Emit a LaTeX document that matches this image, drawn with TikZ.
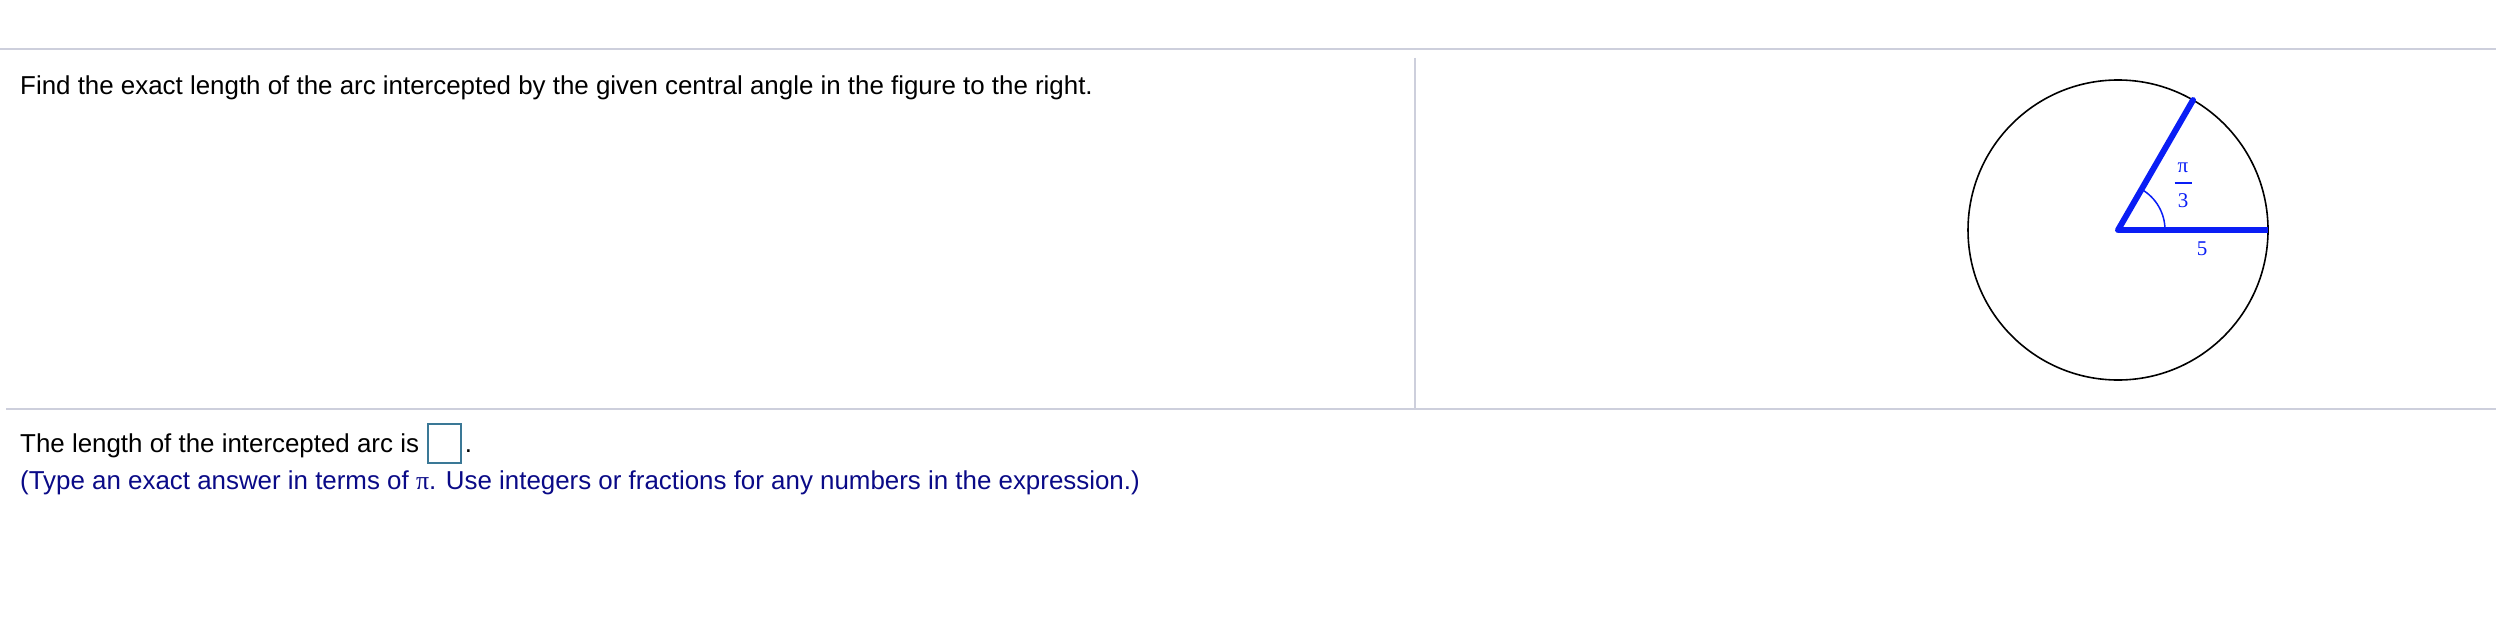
\documentclass[tikz,border=0pt]{standalone}
\usepackage{fontspec}
\setmainfont{Liberation Sans}
\newfontfamily\timesfont{Liberation Serif}
\usepackage{xcolor}
\definecolor{rulegray}{RGB}{205,207,220}
\definecolor{figblue}{RGB}{10,30,245}
\definecolor{hintnavy}{RGB}{10,10,135}
\definecolor{boxteal}{RGB}{58,120,150}
\tikzset{
    prompt/.style={anchor=base west, inner sep=0pt, font=\fontsize{25.9}{30}\selectfont},
    lbl/.style={text=figblue, inner sep=0pt, font=\timesfont\fontsize{21}{24}\selectfont},
}

\begin{document}
\begin{tikzpicture}[x=1pt,y=-1pt]
        \useasboundingbox (0,0) rectangle (2496,642);
        \draw[rulegray, line width=2pt] (0,49) -- (2496,49);
        \draw[rulegray, line width=2pt] (6,409) -- (2496,409);
        \draw[rulegray, line width=2pt] (1415,58) -- (1415,409);
        \node[prompt] (question) at (20,94) {Find the exact length of the arc intercepted by the given central angle in the figure to the right.};
        \node[prompt] (answer) at (20,452) {The length of the intercepted arc is};
        \node[draw=boxteal, line width=1.5pt, minimum width=33pt, minimum height=39pt, inner sep=0pt] (ansbox) at (444.5,443.5) {};
        \node[prompt, anchor=base west] (dot) at ([xshift=3pt]ansbox.east |- answer.base) {.};
        \node[prompt, text=hintnavy] (hint) at (20,489) {(Type an exact answer in terms of {\timesfont π}. Use integers or fractions for any numbers in the expression.)};
        \coordinate (ctr) at (2118,230);
        \draw[line width=1.6pt] (ctr) circle (150);
        \draw[figblue, line width=6pt] (ctr) -- ++(0:150) coordinate (rim);
        \draw[figblue, line width=6pt, line cap=round] (ctr) -- ++(-60:150) coordinate (tip);
        \draw[figblue, line width=1.5pt] ([shift={(0:47)}]ctr) arc (0:-60:47);
        \node[lbl] (anglenum) at (2183,168) {π};
        \node[lbl] (angleden) at (2183,201) {3};
        \draw[figblue, line width=1.8pt] (2174.5,183) -- (2191.5,183);
        \node[lbl] (radius) at (2202,249) {5};
    \end{tikzpicture}
\end{document}
